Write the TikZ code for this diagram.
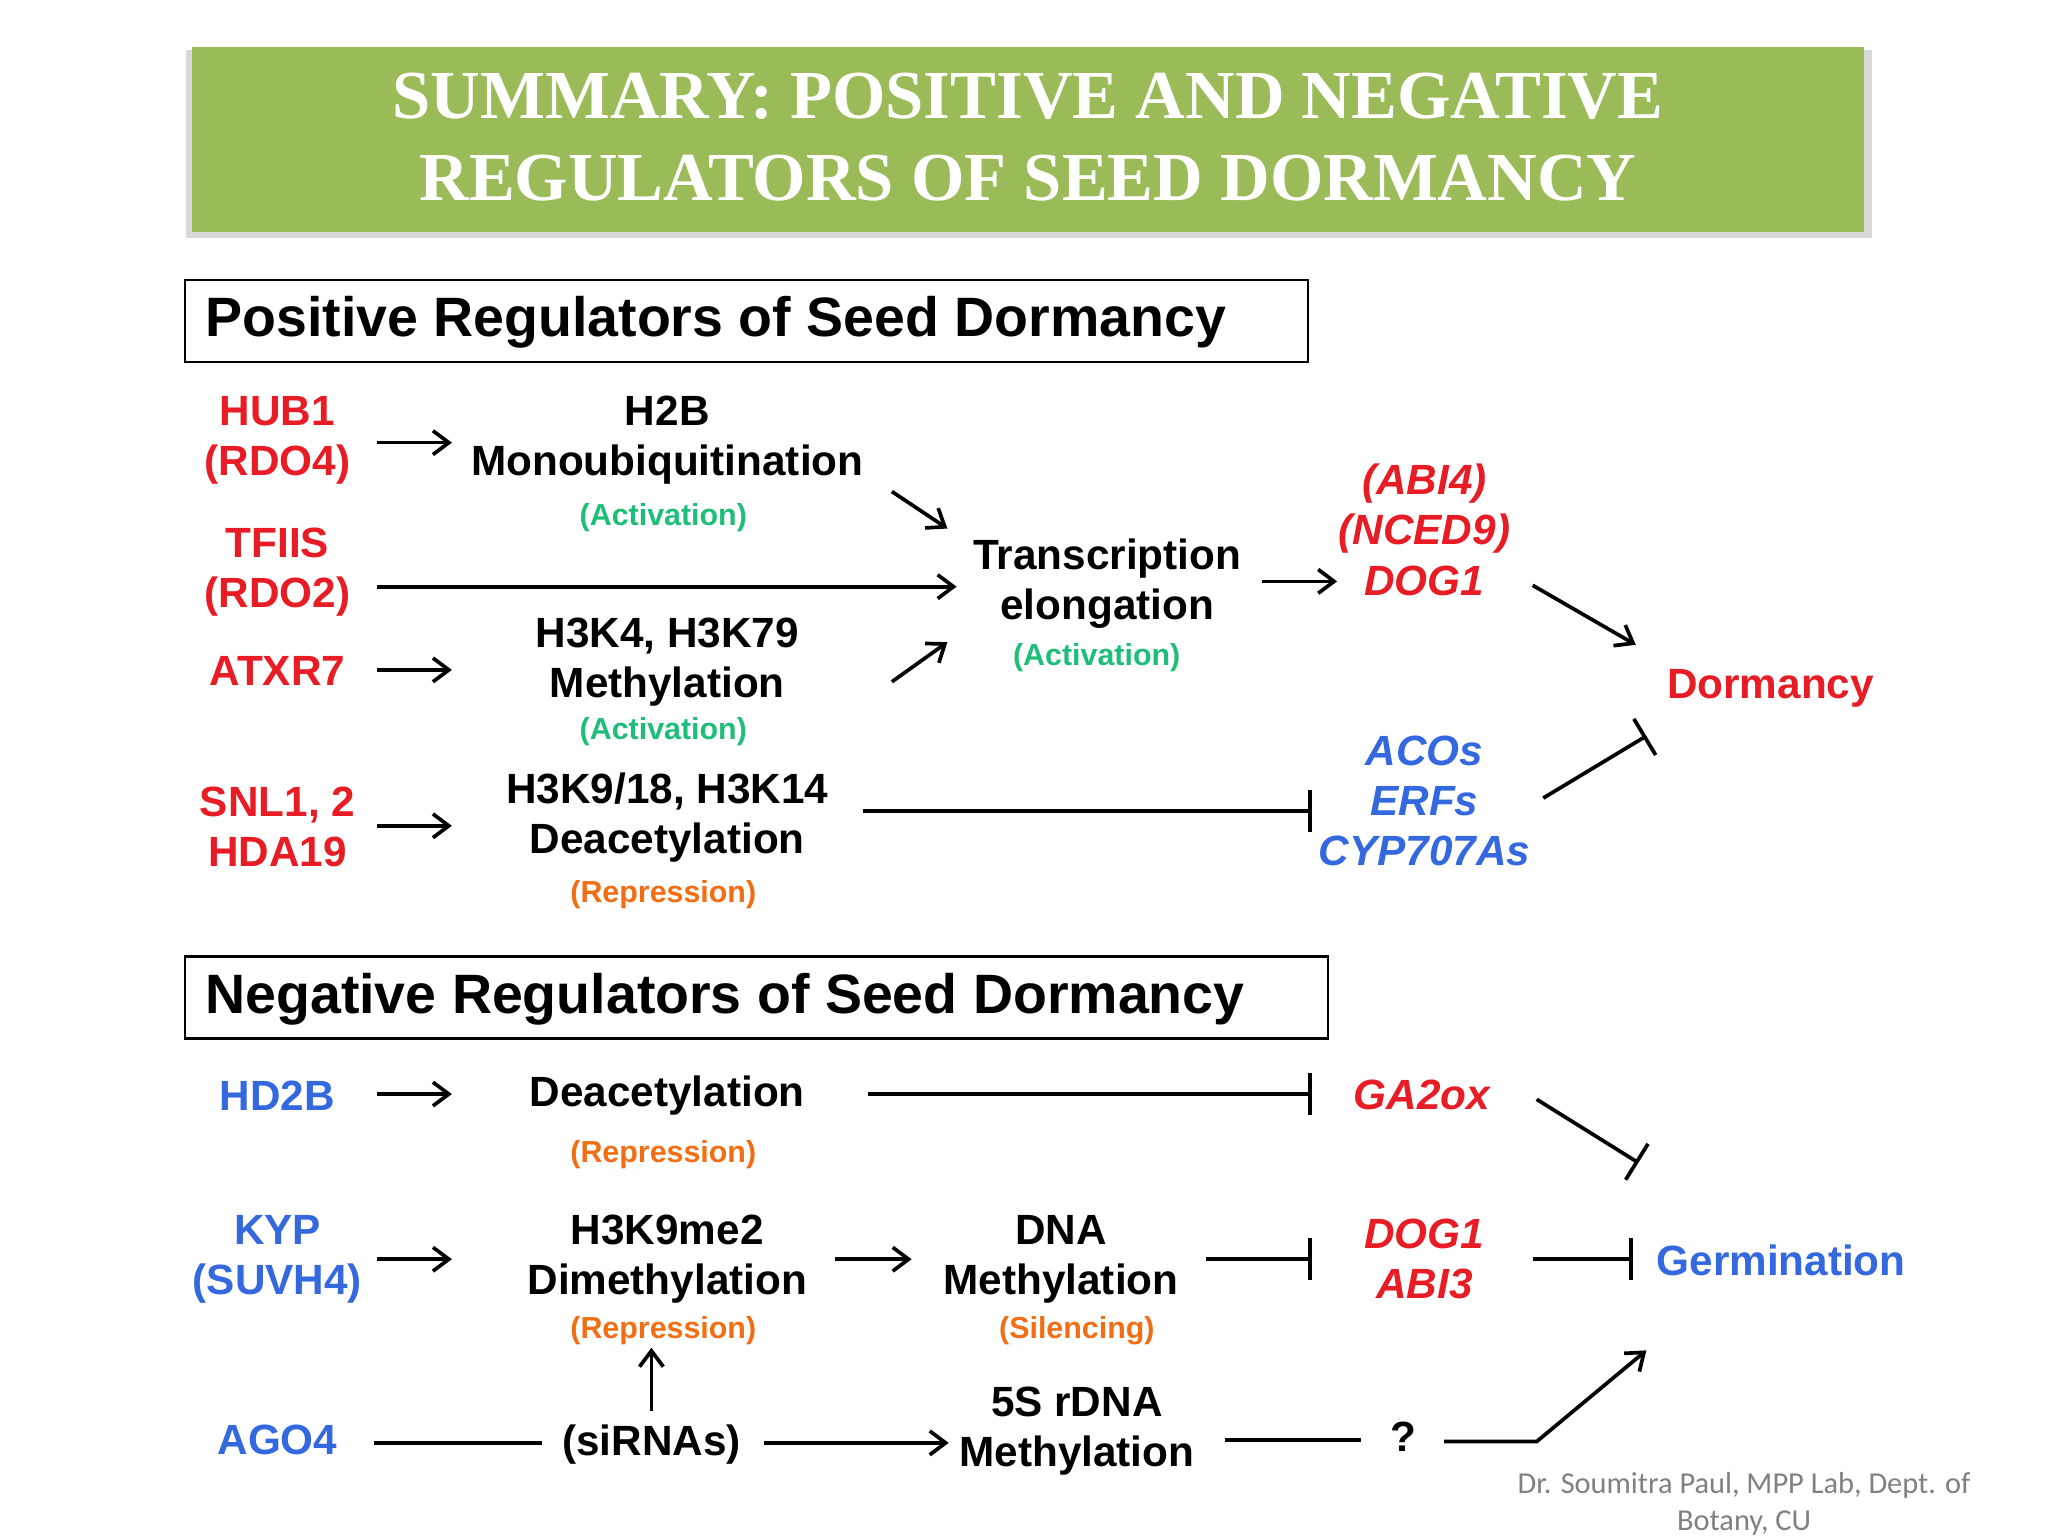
\documentclass[tikz,border=0pt]{standalone}
\usepackage{fontspec}
\setmainfont{Liberation Sans}
\newfontfamily\ttlfont{Liberation Serif}
\newfontfamily\calfont{Carlito}
\usetikzlibrary{arrows.meta}
\definecolor{rr}{RGB}{232,28,36}
\definecolor{bb}{RGB}{52,104,222}
\definecolor{gg}{RGB}{30,190,120}
\definecolor{oo}{RGB}{242,110,20}
\definecolor{tg}{RGB}{155,187,89}
\begin{document}
\begin{tikzpicture}[x=0.5pt,y=-0.5pt,
 t/.style={font=\bfseries\fontsize{16}{19}\selectfont,align=center,inner sep=1pt},
 s/.style={font=\bfseries\fontsize{11.5}{14}\selectfont,inner sep=1pt},
 a/.style={line width=1.4pt,-{Straight Barb[length=6pt,width=9pt]}},
 b/.style={line width=1.4pt,-{Bar[width=16pt]}},
 h/.style={anchor=west,font=\bfseries\fontsize{21}{24}\selectfont,inner sep=0pt}]
\useasboundingbox (0,0) rectangle (1550,1163);
\fill[white] (0,0) rectangle (1550,1163);
\fill[gray!30] (141,38) rectangle (1417,180);
\node[fill=tg,minimum width=632.5pt,minimum height=70pt,anchor=north west,inner sep=0] (title) at (145,35) {};
\node[text=white,align=center,font=\ttlfont\bfseries\fontsize{26}{31}\selectfont] at (778,104) {SUMMARY: POSITIVE AND NEGATIVE\\REGULATORS OF SEED DORMANCY};
\draw[line width=1pt] (140,212) rectangle (990,274);
\draw[line width=1pt] (140,724) rectangle (1005,786);
\node[h] (hp) at (155,244) {Positive Regulators of Seed Dormancy};
\node[h] (hn) at (155,756) {Negative Regulators of Seed Dormancy};
% positive
\node[t,text=rr] (hub) at (210,333) {HUB1\\(RDO4)};
\node[t] (h2b) at (505,333) {H2B\\Monoubiquitination};
\node[s,text=gg] at (502,392) {(Activation)};
\node[t,text=rr] (tf) at (210,433) {TFIIS\\(RDO2)};
\node[t,text=rr] (atx) at (210,508) {ATXR7};
\node[t] (h3k4) at (505,501) {H3K4, H3K79\\Methylation};
\node[s,text=gg] at (502,554) {(Activation)};
\node[t] (te) at (838,442) {Transcription\\elongation};
\node[s,text=gg] at (830,498) {(Activation)};
\node[t,text=rr,font=\bfseries\itshape\fontsize{16}{19}\selectfont] (abi) at (1078,401) {(ABI4)\\(NCED9)\\DOG1};
\node[t,text=rr] (dorm) at (1340,521) {Dormancy};
\node[t,text=rr] (snl) at (210,626) {SNL1, 2\\HDA19};
\node[t] (h3k9) at (505,619) {H3K9/18, H3K14\\Deacetylation};
\node[s,text=oo] at (502,677) {(Repression)};
\node[t,text=bb,font=\bfseries\itshape\fontsize{16}{19}\selectfont] (aco) at (1078,606) {ACOs\\ERFs\\CYP707As};
\draw[a] (285,335) -- (342,335);
\draw[a] (675,372) -- (717,400);
\draw[a] (285,444) -- (724,444);
\draw[a] (285,507) -- (342,507);
\draw[a] (675,516) -- (717,486);
\draw[a] (955,440) -- (1012,440);
\draw[a] (1160,443) -- (1238,488);
\draw[a] (285,625) -- (342,625);
\draw[b] (653,614) -- (993,614);
\draw[b] (1168,604) -- (1246,557);
% negative
\node[t,text=bb] (hd) at (210,829) {HD2B};
\node[t] (dea) at (505,829) {Deacetylation};
\node[s,text=oo] at (502,874) {(Repression)};
\node[t,text=rr,font=\bfseries\itshape\fontsize{16}{19}\selectfont] (ga) at (1076,829) {GA2ox};
\node[t,text=bb] (kyp) at (210,953) {KYP\\(SUVH4)};
\node[t] (h3k9m) at (505,953) {H3K9me2\\Dimethylation};
\node[s,text=oo] (rep) at (502,1007) {(Repression)};
\node[t] (dna) at (803,953) {DNA\\Methylation};
\node[s,text=oo] at (815,1007) {(Silencing)};
\node[t,text=rr,font=\bfseries\itshape\fontsize{16}{19}\selectfont] (dog) at (1078,953) {DOG1\\ABI3};
\node[t,text=bb] (germ) at (1348,954) {Germination};
\node[t,text=bb] (ago) at (210,1090) {AGO4};
\node[t] (si) at (493,1093) {(siRNAs)};
\node[t] (rd) at (815,1083) {5S rDNA\\Methylation};
\node[t] (q) at (1062,1087) {?};
\draw[a] (285,828) -- (342,828);
\draw[b] (657,828) -- (993,828);
\draw[b] (1163,832) -- (1240,880);
\draw[a] (285,953) -- (342,953);
\draw[a] (632,953) -- (690,953);
\draw[b] (913,953) -- (993,953);
\draw[b] (1160,953) -- (1236,953);
\draw[a] (493,1068) -- (493,1020);
\draw[line width=1.4pt] (283,1092) -- (410,1092);
\draw[a] (578,1092) -- (718,1092);
\draw[line width=1.4pt] (927,1090) -- (1030,1090);
\coordinate (c1) at (1163,1091);
\draw[a] (1093,1091) -- (c1) -- (1246,1022);
\node[font=\calfont\fontsize{11.5}{14}\selectfont,text=gray,align=center] at (1320,1138) {Dr. Soumitra Paul, MPP Lab, Dept. of\\Botany, CU};
\end{tikzpicture}
\end{document}
